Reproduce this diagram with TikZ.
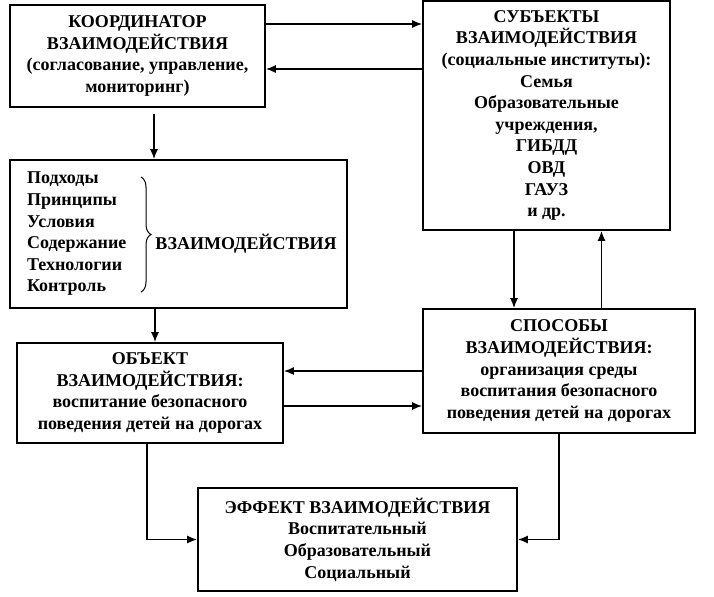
\documentclass[tikz,border=0pt]{standalone}
\usepackage{fontspec}
\setmainfont{Liberation Serif}
\usetikzlibrary{arrows.meta, decorations.pathreplacing}

\begin{document}
\begin{tikzpicture}[
    x=0.5pt, y=-0.5pt,
    txt/.style={font=\fontsize{9}{10.8}\selectfont\bfseries},
    box/.style={rectangle, draw=black, line width=0.8pt, align=center, inner sep=2pt, txt},
    arrow/.style={line width=0.8pt, -{Latex[length=5pt, width=4pt]}},
    brace/.style={decorate, decoration={brace, amplitude=5pt}, line width=0.5pt}
]
\useasboundingbox (0,0) rectangle (714,596);

\node[box, minimum width=127.5pt, minimum height=51pt] (koord) at (137.5,56) {КООРДИНАТОР\\ВЗАИМОДЕЙСТВИЯ\\(согласование, управление,\\мониторинг)};
\node[box, minimum width=123.5pt, minimum height=114.5pt] (subj) at (546.5,115.5) {СУБЪЕКТЫ\\ВЗАИМОДЕЙСТВИЯ\\(социальные институты):\\Семья\\Образовательные\\учреждения,\\ГИБДД\\ОВД\\ГАУЗ\\и др.};
\node[box, minimum width=168.5pt, minimum height=74pt] (podh) at (178.5,234) {};
\node[txt, anchor=west, align=left] (spisok) at (20,234) {Подходы\\Принципы\\Условия\\Содержание\\Технологии\\Контроль};
\node[txt] (vzaim) at (246,244) {ВЗАИМОДЕЙСТВИЯ};
\node[box, minimum width=133pt, minimum height=50pt] (obj) at (150,393) {ОБЪЕКТ\\ВЗАИМОДЕЙСТВИЯ:\\воспитание безопасного\\поведения детей на дорогах};
\node[box, minimum width=136pt, minimum height=62pt] (sposob) at (559,371) {СПОСОБЫ\\ВЗАИМОДЕЙСТВИЯ:\\организация среды\\воспитания безопасного\\поведения детей на дорогах};
\node[box, minimum width=159.5pt, minimum height=51.5pt] (effect) at (357.5,539.5) {ЭФФЕКТ ВЗАИМОДЕЙСТВИЯ\\Воспитательный\\Образовательный\\Социальный};

% skobka
\coordinate (b1) at (141,177);
\coordinate (b2) at (141,292);
\draw[brace] (b1) -- (b2);

\coordinate (k1) at ([yshift=16pt]koord.east);
\coordinate (k2) at ([yshift=-6.5pt]koord.east);
\coordinate (k3) at ([xshift=8.25pt,yshift=-3pt]koord.south);
\coordinate (p1) at ([xshift=-11.75pt]podh.south);
\coordinate (s1) at ([xshift=-16.25pt]subj.south);
\coordinate (s2) at ([xshift=21.25pt]sposob.north);
\coordinate (o1) at ([yshift=-6.5pt]obj.east);
\coordinate (o2) at ([xshift=-1.5pt]obj.south);

\draw[arrow] (k1) -- (k1 -| subj.west);
\draw[arrow] (k2 -| subj.west) -- (k2);
\draw[arrow] (k3) -- (k3 |- podh.north);
\draw[arrow] (p1) -- (p1 |- obj.north);
\draw[arrow] (s1) -- (s1 |- sposob.north);
\draw[arrow] (s2) -- (s2 |- subj.south);
\draw[arrow] (sposob.west) -- (sposob.west -| obj.east);
\draw[arrow] (o1) -- (o1 -| sposob.west);
\draw[arrow] (o2) |- (effect.west);
\draw[arrow] (sposob.south) |- (effect.east);

\end{tikzpicture}
\end{document}
